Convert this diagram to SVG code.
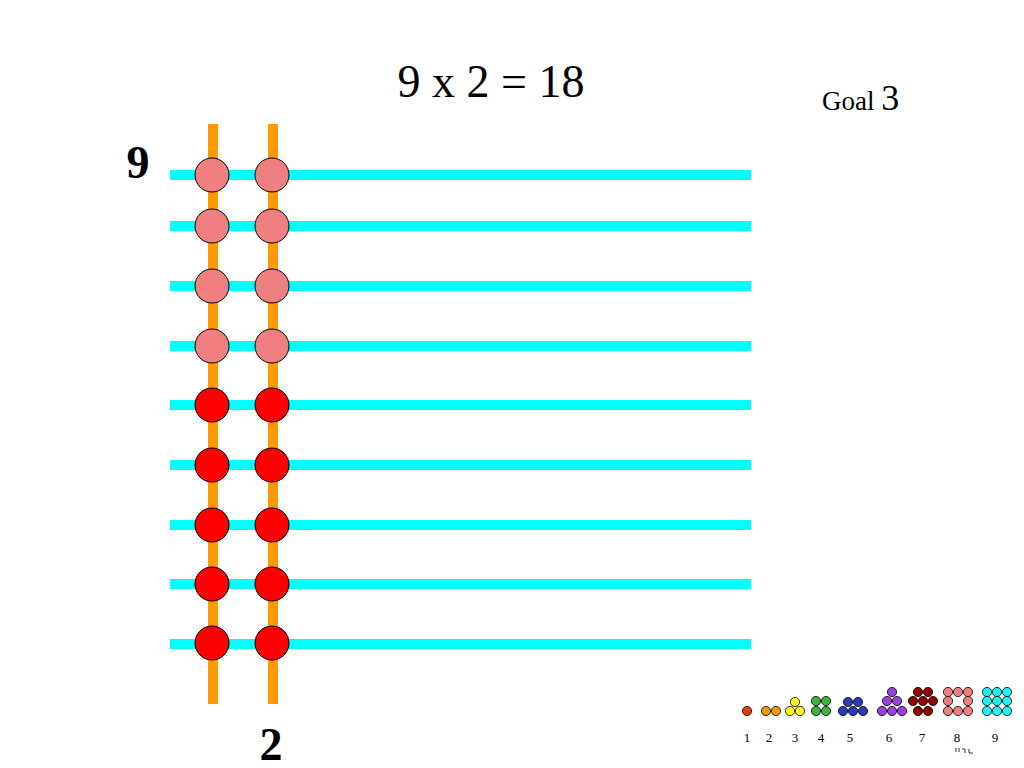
<svg xmlns="http://www.w3.org/2000/svg" width="1024" height="768" viewBox="0 0 1024 768">
<style>
.t{font-family:"Liberation Serif",serif;fill:#000}
.h{stroke:#00ffff;stroke-width:10}
.v{stroke:#ff9900;stroke-width:10}
.p{fill:#f08080;stroke:#000;stroke-width:1}
.r{fill:#ff0000;stroke:#000;stroke-width:1}
.s{stroke:#000;stroke-width:0.8}
</style>
<rect width="1024" height="768" fill="#fff"/>
<text class="t" x="491" y="97" font-size="46" text-anchor="middle">9 x 2 = 18</text>
<text class="t" x="822" y="110" font-size="27">Goal <tspan font-size="36">3</tspan></text>
<text class="t" x="138" y="178" font-size="46" font-weight="bold" text-anchor="middle">9</text>
<text class="t" x="271" y="760" font-size="46" font-weight="bold" text-anchor="middle">2</text>
<g id="connectors">
<g class="h">
<line x1="170" y1="175" x2="751" y2="175"/><line x1="170" y1="226" x2="751" y2="226"/>
<line x1="170" y1="286" x2="751" y2="286"/><line x1="170" y1="346" x2="751" y2="346"/>
<line x1="170" y1="405" x2="751" y2="405"/><line x1="170" y1="465" x2="751" y2="465"/>
<line x1="170" y1="525" x2="751" y2="525"/><line x1="170" y1="584" x2="751" y2="584"/>
<line x1="170" y1="644" x2="751" y2="644"/>
</g>
<g class="v"><line x1="213" y1="124" x2="213" y2="704"/><line x1="273" y1="124" x2="273" y2="704"/></g>
</g>
<g id="beads">
<g class="p">
<circle cx="212" cy="175" r="17"/><circle cx="272" cy="175" r="17"/>
<circle cx="212" cy="226" r="17"/><circle cx="272" cy="226" r="17"/>
<circle cx="212" cy="286" r="17"/><circle cx="272" cy="286" r="17"/>
<circle cx="212" cy="346" r="17"/><circle cx="272" cy="346" r="17"/>
</g>
<g class="r">
<circle cx="212" cy="405" r="17"/><circle cx="272" cy="405" r="17"/>
<circle cx="212" cy="465" r="17"/><circle cx="272" cy="465" r="17"/>
<circle cx="212" cy="525" r="17"/><circle cx="272" cy="525" r="17"/>
<circle cx="212" cy="584" r="17"/><circle cx="272" cy="584" r="17"/>
<circle cx="212" cy="643" r="17"/><circle cx="272" cy="643" r="17"/>
</g>
</g>
<g id="legend" stroke="#000" stroke-width="0.8">
<circle cx="747" cy="711" r="4.6" fill="#e0400f"/>
<g fill="#f0960f"><circle cx="766" cy="711" r="4.6"/><circle cx="776" cy="711" r="4.6"/></g>
<g fill="#ffff20"><circle cx="790" cy="711" r="4.6"/><circle cx="800" cy="711" r="4.6"/><circle cx="795" cy="702" r="4.6"/></g>
<g fill="#40b040"><circle cx="816" cy="701" r="4.6"/><circle cx="826" cy="701" r="4.6"/><circle cx="816" cy="711" r="4.6"/><circle cx="826" cy="711" r="4.6"/></g>
<g fill="#2a3ab8"><circle cx="848" cy="702" r="4.6"/><circle cx="858" cy="702" r="4.6"/><circle cx="843" cy="711" r="4.6"/><circle cx="853" cy="711" r="4.6"/><circle cx="863" cy="711" r="4.6"/></g>
<g fill="#9a40e0"><circle cx="892" cy="692" r="4.6"/><circle cx="887" cy="701" r="4.6"/><circle cx="897" cy="701" r="4.6"/><circle cx="882" cy="711" r="4.6"/><circle cx="892" cy="711" r="4.6"/><circle cx="902" cy="711" r="4.6"/></g>
<g fill="#900000"><circle cx="918" cy="692" r="4.6"/><circle cx="928" cy="692" r="4.6"/><circle cx="913" cy="701" r="4.6"/><circle cx="923" cy="701" r="4.6"/><circle cx="933" cy="701" r="4.6"/><circle cx="918" cy="711" r="4.6"/><circle cx="928" cy="711" r="4.6"/></g>
<g fill="#f08080"><circle cx="948" cy="692" r="4.6"/><circle cx="958" cy="692" r="4.6"/><circle cx="968" cy="692" r="4.6"/><circle cx="948" cy="701" r="4.6"/><circle cx="968" cy="701" r="4.6"/><circle cx="948" cy="711" r="4.6"/><circle cx="958" cy="711" r="4.6"/><circle cx="968" cy="711" r="4.6"/></g>
<g fill="#20f0f0"><circle cx="987" cy="692" r="4.6"/><circle cx="997" cy="692" r="4.6"/><circle cx="1007" cy="692" r="4.6"/><circle cx="987" cy="701" r="4.6"/><circle cx="997" cy="701" r="4.6"/><circle cx="1007" cy="701" r="4.6"/><circle cx="987" cy="711" r="4.6"/><circle cx="997" cy="711" r="4.6"/><circle cx="1007" cy="711" r="4.6"/></g>
</g>
<g class="t" font-size="13" text-anchor="middle">
<text x="747" y="742">1</text><text x="769" y="742">2</text><text x="795" y="742">3</text><text x="821" y="742">4</text><text x="850" y="742">5</text><text x="889" y="742">6</text><text x="922" y="742">7</text><text x="957" y="742">8</text><text x="995" y="742">9</text>
</g>
<path class="s" fill="none" d="M956 748v4M959 748v4M962 749h3v4M969 749v4h4"/>
</svg>
